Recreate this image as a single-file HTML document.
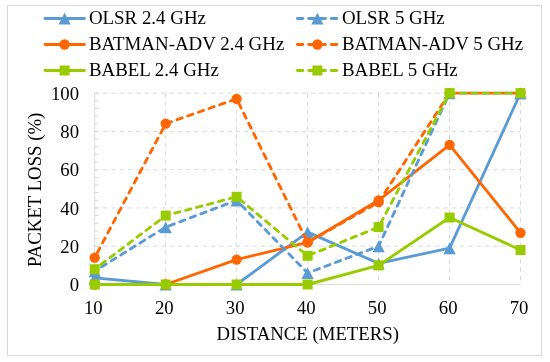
<!DOCTYPE html>
<html lang="en"><head><meta charset="utf-8"><title>Packet loss vs distance</title>
<style>html,body{margin:0;padding:0;background:#fff}svg{display:block}</style></head>
<body>
<svg width="550" height="362" viewBox="0 0 550 362">
<rect x="0" y="0" width="550" height="362" fill="#fff"/>
<rect x="7.5" y="5.5" width="534" height="350" fill="#fff" stroke="#D9D9D9" stroke-width="1"/>
<line x1="94.7" y1="246.2" x2="520.5" y2="246.2" stroke="#D9D9D9" stroke-width="1" stroke-dasharray="4.4 3.9"/>
<line x1="94.7" y1="207.9" x2="520.5" y2="207.9" stroke="#D9D9D9" stroke-width="1" stroke-dasharray="4.4 3.9"/>
<line x1="94.7" y1="169.7" x2="520.5" y2="169.7" stroke="#D9D9D9" stroke-width="1" stroke-dasharray="4.4 3.9"/>
<line x1="94.7" y1="131.4" x2="520.5" y2="131.4" stroke="#D9D9D9" stroke-width="1" stroke-dasharray="4.4 3.9"/>
<line x1="94.7" y1="93.1" x2="520.5" y2="93.1" stroke="#D9D9D9" stroke-width="1" stroke-dasharray="4.4 3.9"/>
<line x1="165.7" y1="93.1" x2="165.7" y2="284.5" stroke="#D9D9D9" stroke-width="1" stroke-dasharray="4.4 3.9"/>
<line x1="236.6" y1="93.1" x2="236.6" y2="284.5" stroke="#D9D9D9" stroke-width="1" stroke-dasharray="4.4 3.9"/>
<line x1="307.6" y1="93.1" x2="307.6" y2="284.5" stroke="#D9D9D9" stroke-width="1" stroke-dasharray="4.4 3.9"/>
<line x1="378.6" y1="93.1" x2="378.6" y2="284.5" stroke="#D9D9D9" stroke-width="1" stroke-dasharray="4.4 3.9"/>
<line x1="449.6" y1="93.1" x2="449.6" y2="284.5" stroke="#D9D9D9" stroke-width="1" stroke-dasharray="4.4 3.9"/>
<line x1="520.5" y1="93.1" x2="520.5" y2="284.5" stroke="#D9D9D9" stroke-width="1" stroke-dasharray="4.4 3.9"/>
<line x1="94.7" y1="93.1" x2="94.7" y2="284.5" stroke="#D9D9D9" stroke-width="1"/>
<line x1="94.7" y1="284.5" x2="520.5" y2="284.5" stroke="#D9D9D9" stroke-width="1"/>
<line x1="94.7" y1="284.5" x2="98.5" y2="284.5" stroke="#D9D9D9" stroke-width="1"/>
<line x1="94.7" y1="276.8" x2="98.5" y2="276.8" stroke="#D9D9D9" stroke-width="1"/>
<line x1="94.7" y1="269.2" x2="98.5" y2="269.2" stroke="#D9D9D9" stroke-width="1"/>
<line x1="94.7" y1="261.5" x2="98.5" y2="261.5" stroke="#D9D9D9" stroke-width="1"/>
<line x1="94.7" y1="253.9" x2="98.5" y2="253.9" stroke="#D9D9D9" stroke-width="1"/>
<line x1="94.7" y1="246.2" x2="98.5" y2="246.2" stroke="#D9D9D9" stroke-width="1"/>
<line x1="94.7" y1="238.6" x2="98.5" y2="238.6" stroke="#D9D9D9" stroke-width="1"/>
<line x1="94.7" y1="230.9" x2="98.5" y2="230.9" stroke="#D9D9D9" stroke-width="1"/>
<line x1="94.7" y1="223.3" x2="98.5" y2="223.3" stroke="#D9D9D9" stroke-width="1"/>
<line x1="94.7" y1="215.6" x2="98.5" y2="215.6" stroke="#D9D9D9" stroke-width="1"/>
<line x1="94.7" y1="207.9" x2="98.5" y2="207.9" stroke="#D9D9D9" stroke-width="1"/>
<line x1="94.7" y1="200.3" x2="98.5" y2="200.3" stroke="#D9D9D9" stroke-width="1"/>
<line x1="94.7" y1="192.6" x2="98.5" y2="192.6" stroke="#D9D9D9" stroke-width="1"/>
<line x1="94.7" y1="185.0" x2="98.5" y2="185.0" stroke="#D9D9D9" stroke-width="1"/>
<line x1="94.7" y1="177.3" x2="98.5" y2="177.3" stroke="#D9D9D9" stroke-width="1"/>
<line x1="94.7" y1="169.7" x2="98.5" y2="169.7" stroke="#D9D9D9" stroke-width="1"/>
<line x1="94.7" y1="162.0" x2="98.5" y2="162.0" stroke="#D9D9D9" stroke-width="1"/>
<line x1="94.7" y1="154.3" x2="98.5" y2="154.3" stroke="#D9D9D9" stroke-width="1"/>
<line x1="94.7" y1="146.7" x2="98.5" y2="146.7" stroke="#D9D9D9" stroke-width="1"/>
<line x1="94.7" y1="139.0" x2="98.5" y2="139.0" stroke="#D9D9D9" stroke-width="1"/>
<line x1="94.7" y1="131.4" x2="98.5" y2="131.4" stroke="#D9D9D9" stroke-width="1"/>
<line x1="94.7" y1="123.7" x2="98.5" y2="123.7" stroke="#D9D9D9" stroke-width="1"/>
<line x1="94.7" y1="116.1" x2="98.5" y2="116.1" stroke="#D9D9D9" stroke-width="1"/>
<line x1="94.7" y1="108.4" x2="98.5" y2="108.4" stroke="#D9D9D9" stroke-width="1"/>
<line x1="94.7" y1="100.8" x2="98.5" y2="100.8" stroke="#D9D9D9" stroke-width="1"/>
<line x1="94.7" y1="93.1" x2="98.5" y2="93.1" stroke="#D9D9D9" stroke-width="1"/>
<polyline points="94.7,277.8 165.7,284.5 236.6,284.5 307.6,232.1 378.6,263.4 449.6,248.1 520.5,93.1" fill="none" stroke="#5B9BD5" stroke-width="2.85" stroke-linejoin="round" stroke-linecap="round"/>
<polygon points="94.7,272.1 100.8,283.9 88.6,283.9" fill="#5B9BD5"/>
<polygon points="165.7,278.8 171.8,290.6 159.6,290.6" fill="#5B9BD5"/>
<polygon points="236.6,278.8 242.7,290.6 230.5,290.6" fill="#5B9BD5"/>
<polygon points="307.6,226.4 313.7,238.2 301.5,238.2" fill="#5B9BD5"/>
<polygon points="378.6,257.7 384.7,269.5 372.5,269.5" fill="#5B9BD5"/>
<polygon points="449.6,242.4 455.7,254.2 443.4,254.2" fill="#5B9BD5"/>
<polygon points="520.5,87.4 526.6,99.2 514.4,99.2" fill="#5B9BD5"/>
<polyline points="94.7,284.5 165.7,284.5 236.6,259.6 307.6,242.4 378.6,200.3 449.6,144.8 520.5,232.8" fill="none" stroke="#FF6600" stroke-width="2.85" stroke-linejoin="round" stroke-linecap="round"/>
<circle cx="94.7" cy="284.5" r="5.15" fill="#FF6600"/>
<circle cx="165.7" cy="284.5" r="5.15" fill="#FF6600"/>
<circle cx="236.6" cy="259.6" r="5.15" fill="#FF6600"/>
<circle cx="307.6" cy="242.4" r="5.15" fill="#FF6600"/>
<circle cx="378.6" cy="200.3" r="5.15" fill="#FF6600"/>
<circle cx="449.6" cy="144.8" r="5.15" fill="#FF6600"/>
<circle cx="520.5" cy="232.8" r="5.15" fill="#FF6600"/>
<polyline points="94.7,284.5 165.7,284.5 236.6,284.5 307.6,284.5 378.6,265.4 449.6,217.5 520.5,250.0" fill="none" stroke="#99CC00" stroke-width="2.85" stroke-linejoin="round" stroke-linecap="round"/>
<rect x="89.7" y="279.5" width="10.0" height="10.0" fill="#99CC00"/>
<rect x="160.7" y="279.5" width="10.0" height="10.0" fill="#99CC00"/>
<rect x="231.6" y="279.5" width="10.0" height="10.0" fill="#99CC00"/>
<rect x="302.6" y="279.5" width="10.0" height="10.0" fill="#99CC00"/>
<rect x="373.6" y="260.4" width="10.0" height="10.0" fill="#99CC00"/>
<rect x="444.6" y="212.5" width="10.0" height="10.0" fill="#99CC00"/>
<rect x="515.5" y="245.0" width="10.0" height="10.0" fill="#99CC00"/>
<polyline points="94.7,271.1 165.7,227.1 236.6,200.3 307.6,273.0 378.6,246.2 449.6,93.1 520.5,93.1" fill="none" stroke="#5B9BD5" stroke-width="2.85" stroke-linejoin="round" stroke-linecap="round" stroke-dasharray="5.5 5.8" stroke-dashoffset="3.18"/>
<polygon points="94.7,265.4 100.8,277.2 88.6,277.2" fill="#5B9BD5"/>
<polygon points="165.7,221.4 171.8,233.2 159.6,233.2" fill="#5B9BD5"/>
<polygon points="236.6,194.6 242.7,206.4 230.5,206.4" fill="#5B9BD5"/>
<polygon points="307.6,267.3 313.7,279.1 301.5,279.1" fill="#5B9BD5"/>
<polygon points="378.6,240.5 384.7,252.3 372.5,252.3" fill="#5B9BD5"/>
<polygon points="449.6,87.4 455.7,99.2 443.4,99.2" fill="#5B9BD5"/>
<polygon points="520.5,87.4 526.6,99.2 514.4,99.2" fill="#5B9BD5"/>
<polyline points="94.7,257.7 165.7,123.7 236.6,98.8 307.6,242.4 378.6,202.2 449.6,93.1 520.5,93.1" fill="none" stroke="#FF6600" stroke-width="2.85" stroke-linejoin="round" stroke-linecap="round" stroke-dasharray="5.5 5.8" stroke-dashoffset="5.83"/>
<circle cx="94.7" cy="257.7" r="5.15" fill="#FF6600"/>
<circle cx="165.7" cy="123.7" r="5.15" fill="#FF6600"/>
<circle cx="236.6" cy="98.8" r="5.15" fill="#FF6600"/>
<circle cx="307.6" cy="242.4" r="5.15" fill="#FF6600"/>
<circle cx="378.6" cy="202.2" r="5.15" fill="#FF6600"/>
<circle cx="449.6" cy="93.1" r="5.15" fill="#FF6600"/>
<circle cx="520.5" cy="93.1" r="5.15" fill="#FF6600"/>
<polyline points="94.7,269.2 165.7,215.6 236.6,196.8 307.6,255.8 378.6,227.1 449.6,93.1 520.5,93.1" fill="none" stroke="#99CC00" stroke-width="2.85" stroke-linejoin="round" stroke-linecap="round" stroke-dasharray="5.5 5.8" stroke-dashoffset="3.43"/>
<rect x="89.7" y="264.2" width="10.0" height="10.0" fill="#99CC00"/>
<rect x="160.7" y="210.6" width="10.0" height="10.0" fill="#99CC00"/>
<rect x="231.6" y="191.8" width="10.0" height="10.0" fill="#99CC00"/>
<rect x="302.6" y="250.8" width="10.0" height="10.0" fill="#99CC00"/>
<rect x="373.6" y="222.1" width="10.0" height="10.0" fill="#99CC00"/>
<rect x="444.6" y="88.1" width="10.0" height="10.0" fill="#99CC00"/>
<rect x="515.5" y="88.1" width="10.0" height="10.0" fill="#99CC00"/>
<text x="79" y="291.1" font-size="18.75" text-anchor="end" font-family="'Liberation Serif', 'Times New Roman', serif" fill="#000">0</text>
<text x="79" y="252.8" font-size="18.75" text-anchor="end" font-family="'Liberation Serif', 'Times New Roman', serif" fill="#000">20</text>
<text x="79" y="214.5" font-size="18.75" text-anchor="end" font-family="'Liberation Serif', 'Times New Roman', serif" fill="#000">40</text>
<text x="79" y="176.2" font-size="18.75" text-anchor="end" font-family="'Liberation Serif', 'Times New Roman', serif" fill="#000">60</text>
<text x="79" y="137.9" font-size="18.75" text-anchor="end" font-family="'Liberation Serif', 'Times New Roman', serif" fill="#000">80</text>
<text x="79" y="99.6" font-size="18.75" text-anchor="end" font-family="'Liberation Serif', 'Times New Roman', serif" fill="#000">100</text>
<text x="93.3" y="313.8" font-size="18.75" text-anchor="middle" font-family="'Liberation Serif', 'Times New Roman', serif" fill="#000">10</text>
<text x="164.3" y="313.8" font-size="18.75" text-anchor="middle" font-family="'Liberation Serif', 'Times New Roman', serif" fill="#000">20</text>
<text x="235.2" y="313.8" font-size="18.75" text-anchor="middle" font-family="'Liberation Serif', 'Times New Roman', serif" fill="#000">30</text>
<text x="306.2" y="313.8" font-size="18.75" text-anchor="middle" font-family="'Liberation Serif', 'Times New Roman', serif" fill="#000">40</text>
<text x="377.2" y="313.8" font-size="18.75" text-anchor="middle" font-family="'Liberation Serif', 'Times New Roman', serif" fill="#000">50</text>
<text x="448.2" y="313.8" font-size="18.75" text-anchor="middle" font-family="'Liberation Serif', 'Times New Roman', serif" fill="#000">60</text>
<text x="519.1" y="313.8" font-size="18.75" text-anchor="middle" font-family="'Liberation Serif', 'Times New Roman', serif" fill="#000">70</text>
<text x="307.8" y="340.1" font-size="18.75" text-anchor="middle" font-family="'Liberation Serif', 'Times New Roman', serif" fill="#000">DISTANCE (METERS)</text>
<text transform="translate(41.4,189.8) rotate(-90)" font-size="18.75" text-anchor="middle" font-family="'Liberation Serif', 'Times New Roman', serif" fill="#000">PACKET LOSS (%)</text>
<line x1="45" y1="18.5" x2="84.4" y2="18.5" stroke="#5B9BD5" stroke-width="2.85" stroke-linecap="round"/>
<polygon points="64.6,12.8 70.7,24.6 58.5,24.6" fill="#5B9BD5"/>
<text x="88.9" y="24.15" font-size="18.9" font-family="'Liberation Serif', 'Times New Roman', serif" fill="#000">OLSR 2.4 GHz</text>
<line x1="45" y1="44.5" x2="84.4" y2="44.5" stroke="#FF6600" stroke-width="2.85" stroke-linecap="round"/>
<circle cx="64.6" cy="44.5" r="5.15" fill="#FF6600"/>
<text x="88.9" y="50.45" font-size="18.9" font-family="'Liberation Serif', 'Times New Roman', serif" fill="#000">BATMAN-ADV 2.4 GHz</text>
<line x1="45" y1="70.5" x2="84.4" y2="70.5" stroke="#99CC00" stroke-width="2.85" stroke-linecap="round"/>
<rect x="59.6" y="65.5" width="10.0" height="10.0" fill="#99CC00"/>
<text x="88.9" y="76.45" font-size="18.9" font-family="'Liberation Serif', 'Times New Roman', serif" fill="#000">BABEL 2.4 GHz</text>
<line x1="297.4" y1="18.5" x2="336.79999999999995" y2="18.5" stroke="#5B9BD5" stroke-width="2.85" stroke-linecap="round" stroke-dasharray="5.5 5.8"/>
<polygon points="317.4,12.8 323.5,24.6 311.3,24.6" fill="#5B9BD5"/>
<text x="341.9" y="24.15" font-size="18.9" font-family="'Liberation Serif', 'Times New Roman', serif" fill="#000">OLSR 5 GHz</text>
<line x1="297.4" y1="44.5" x2="336.79999999999995" y2="44.5" stroke="#FF6600" stroke-width="2.85" stroke-linecap="round" stroke-dasharray="5.5 5.8"/>
<circle cx="317.4" cy="44.5" r="5.15" fill="#FF6600"/>
<text x="341.9" y="50.45" font-size="18.9" font-family="'Liberation Serif', 'Times New Roman', serif" fill="#000">BATMAN-ADV 5 GHz</text>
<line x1="297.4" y1="70.5" x2="336.79999999999995" y2="70.5" stroke="#99CC00" stroke-width="2.85" stroke-linecap="round" stroke-dasharray="5.5 5.8"/>
<rect x="312.4" y="65.5" width="10.0" height="10.0" fill="#99CC00"/>
<text x="341.9" y="76.45" font-size="18.9" font-family="'Liberation Serif', 'Times New Roman', serif" fill="#000">BABEL 5 GHz</text>
</svg>
</body></html>
